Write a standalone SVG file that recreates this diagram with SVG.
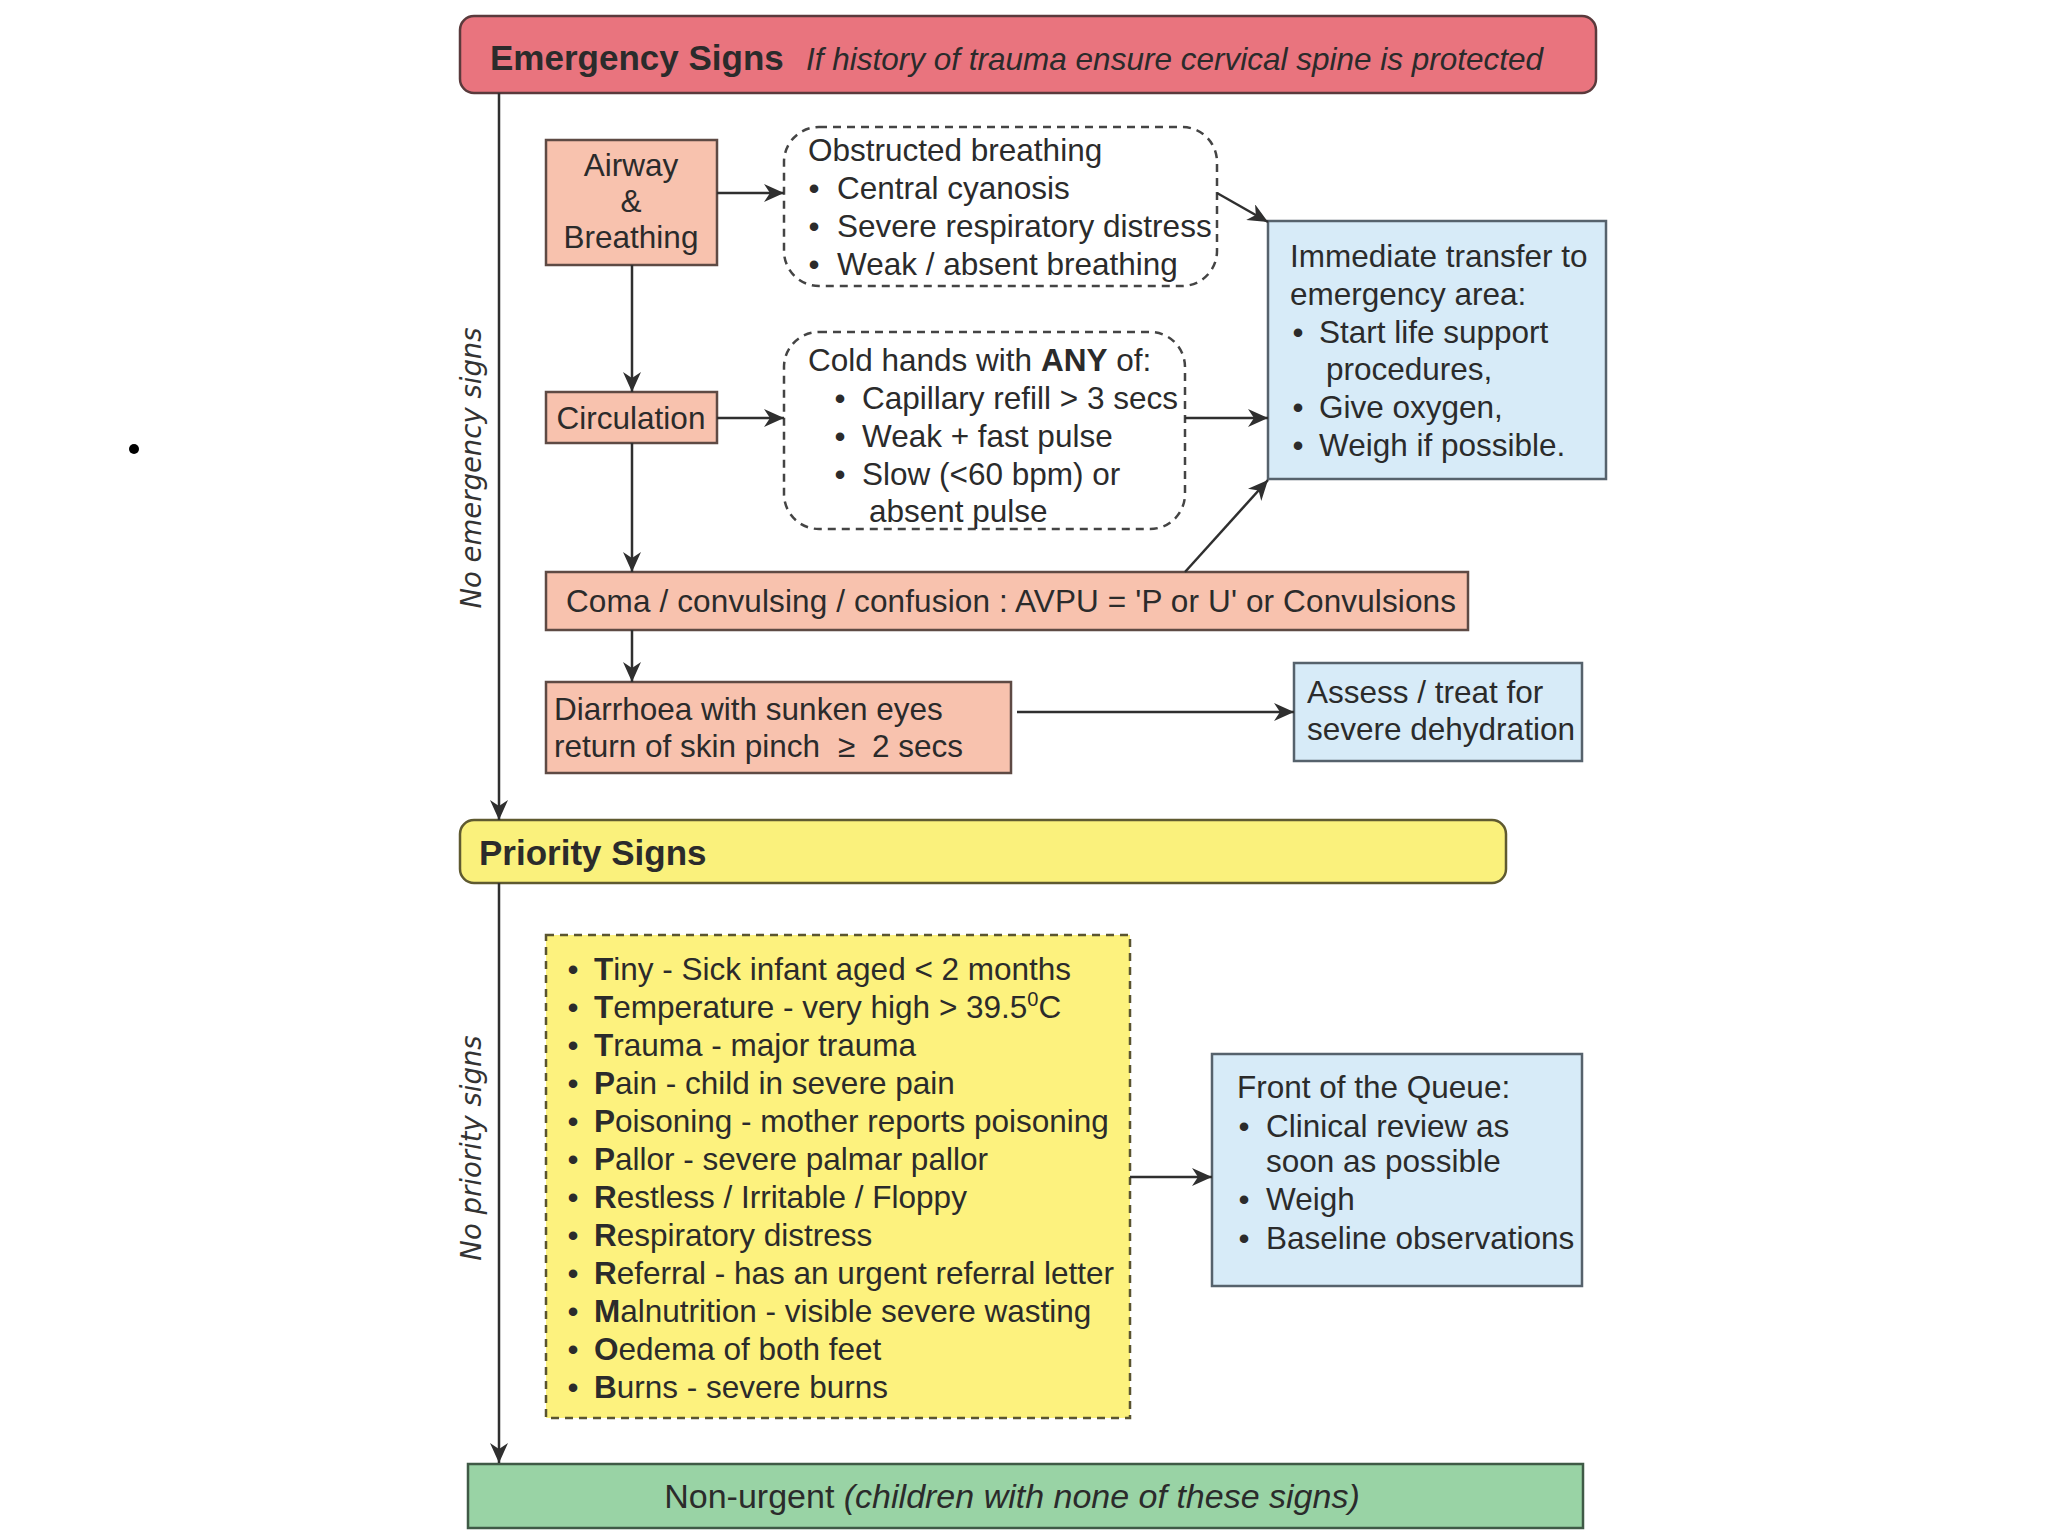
<svg xmlns="http://www.w3.org/2000/svg" width="2048" height="1536" viewBox="0 0 2048 1536">
<style>
text{font-family:"Liberation Sans",Arial,Helvetica,sans-serif;fill:#2b2b2b;font-size:31.5px}
.t{font-size:35px;font-weight:bold}
.i{font-style:italic}
.c{text-anchor:middle}
.bd{font-weight:bold}
.b{text-anchor:middle}
.nu{font-size:34px}
.vl{font-family:"DejaVu Sans",Verdana,sans-serif;font-style:italic;font-size:27.5px;text-anchor:middle;fill:#333}
.salmon{fill:#f8c2ae;stroke:#5e4a44;stroke-width:2.5}
.blue{fill:#d7ebf8;stroke:#56626c;stroke-width:2.5}
.dash{fill:#ffffff;stroke:#444;stroke-width:2.5;stroke-dasharray:8 6}
.conn line{stroke:#2f2f2f;stroke-width:2.5;fill:none}
.conn line.a{marker-end:url(#ah)}
</style>
<defs>
<marker id="ah" markerUnits="userSpaceOnUse" markerWidth="22" markerHeight="18" refX="20" refY="9" orient="auto">
<path d="M0,0 L20,9 L0,18 L6,9 Z" fill="#2f2f2f"/>
</marker>
</defs>
<rect width="2048" height="1536" fill="#ffffff"/>
<circle cx="134" cy="449" r="5" fill="#000"/>

<g id="emergency">
<rect x="460" y="16" width="1136" height="77" rx="14" fill="#e9747e" stroke="#5a3a3c" stroke-width="2.5"/>
<text class="t" x="490" y="70">Emergency Signs</text>
<text class="i" x="806" y="70">If history of trauma ensure cervical spine is protected</text>
</g>

<g id="airway">
<rect class="salmon" x="546" y="140" width="171" height="125"/>
<text class="c" x="631" y="176">Airway</text>
<text class="c" x="631" y="212">&amp;</text>
<text class="c" x="631" y="248">Breathing</text>
</g>

<g id="obstructed">
<rect class="dash" x="784" y="127" width="433" height="159" rx="35"/>
<text x="808" y="161">Obstructed breathing</text>
<text class="b" x="814" y="199">•</text><text x="837" y="199">Central cyanosis</text>
<text class="b" x="814" y="237">•</text><text x="837" y="237">Severe respiratory distress</text>
<text class="b" x="814" y="275">•</text><text x="837" y="275">Weak / absent breathing</text>
</g>

<g id="immediate">
<rect class="blue" x="1268" y="221" width="338" height="258"/>
<text x="1290" y="267">Immediate transfer to</text>
<text x="1290" y="305">emergency area:</text>
<text class="b" x="1298" y="343">•</text><text x="1319" y="343">Start life support</text>
<text x="1326" y="380">procedures,</text>
<text class="b" x="1298" y="418">•</text><text x="1319" y="418">Give oxygen,</text>
<text class="b" x="1298" y="456">•</text><text x="1319" y="456">Weigh if possible.</text>
</g>

<g id="circulation">
<rect class="salmon" x="546" y="392" width="171" height="51"/>
<text class="c" x="631" y="429">Circulation</text>
</g>

<g id="coldhands">
<rect class="dash" x="784" y="332" width="401" height="197" rx="35"/>
<text x="808" y="371">Cold hands with <tspan class="bd">ANY</tspan> of:</text>
<text class="b" x="840" y="409">•</text><text x="862" y="409">Capillary refill &gt; 3 secs</text>
<text class="b" x="840" y="447">•</text><text x="862" y="447">Weak + fast pulse</text>
<text class="b" x="840" y="485">•</text><text x="862" y="485">Slow (&lt;60 bpm) or</text>
<text x="869" y="522">absent pulse</text>
</g>

<g id="coma">
<rect class="salmon" x="546" y="572" width="922" height="58"/>
<text x="566" y="612" textLength="890">Coma / convulsing / confusion : AVPU = 'P or U' or Convulsions</text>
</g>

<g id="diarrhoea">
<rect class="salmon" x="546" y="682" width="465" height="91"/>
<text x="554" y="720">Diarrhoea with sunken eyes</text>
<text x="554" y="757">return of skin pinch <tspan x="838">≥</tspan> <tspan x="872">2 secs</tspan></text>
</g>

<g id="assess">
<rect class="blue" x="1294" y="663" width="288" height="98"/>
<text x="1307" y="703">Assess / treat for</text>
<text x="1307" y="740">severe dehydration</text>
</g>

<g id="priority">
<rect x="460" y="820" width="1046" height="63" rx="14" fill="#faf17c" stroke="#5f5a30" stroke-width="2.5"/>
<text class="t" x="479" y="865">Priority Signs</text>
</g>

<g id="prioritylist">
<rect x="546" y="935" width="584" height="483" fill="#fdf27e" stroke="#5a5430" stroke-width="2.5" stroke-dasharray="8 6"/>
<text class="b" x="573" y="980">•</text><text x="594" y="980"><tspan class="bd">T</tspan>iny - Sick infant aged &lt; 2 months</text>
<text class="b" x="573" y="1018">•</text><text x="594" y="1018"><tspan class="bd">T</tspan>emperature - very high &gt; 39.5<tspan font-size="20" dy="-12">0</tspan><tspan dy="12">C</tspan></text>
<text class="b" x="573" y="1056">•</text><text x="594" y="1056"><tspan class="bd">T</tspan>rauma - major trauma</text>
<text class="b" x="573" y="1094">•</text><text x="594" y="1094"><tspan class="bd">P</tspan>ain - child in severe pain</text>
<text class="b" x="573" y="1132">•</text><text x="594" y="1132"><tspan class="bd">P</tspan>oisoning - mother reports poisoning</text>
<text class="b" x="573" y="1170">•</text><text x="594" y="1170"><tspan class="bd">P</tspan>allor - severe palmar pallor</text>
<text class="b" x="573" y="1208">•</text><text x="594" y="1208"><tspan class="bd">R</tspan>estless / Irritable / Floppy</text>
<text class="b" x="573" y="1246">•</text><text x="594" y="1246"><tspan class="bd">R</tspan>espiratory distress</text>
<text class="b" x="573" y="1284">•</text><text x="594" y="1284"><tspan class="bd">R</tspan>eferral - has an urgent referral letter</text>
<text class="b" x="573" y="1322">•</text><text x="594" y="1322"><tspan class="bd">M</tspan>alnutrition - visible severe wasting</text>
<text class="b" x="573" y="1360">•</text><text x="594" y="1360"><tspan class="bd">O</tspan>edema of both feet</text>
<text class="b" x="573" y="1398">•</text><text x="594" y="1398"><tspan class="bd">B</tspan>urns - severe burns</text>
</g>

<g id="frontqueue">
<rect class="blue" x="1212" y="1054" width="370" height="232"/>
<text x="1237" y="1098">Front of the Queue:</text>
<text class="b" x="1244" y="1137">•</text><text x="1266" y="1137">Clinical review as</text>
<text x="1266" y="1172">soon as possible</text>
<text class="b" x="1244" y="1210">•</text><text x="1266" y="1210">Weigh</text>
<text class="b" x="1244" y="1249">•</text><text x="1266" y="1249">Baseline observations</text>
</g>

<g id="nonurgent">
<rect x="468" y="1464" width="1115" height="64" fill="#99d3a5" stroke="#3f5a46" stroke-width="2.5"/>
<text class="c nu" x="1012" y="1508">Non-urgent <tspan class="i">(children with none of these signs)</tspan></text>
</g>

<g id="labels">
<text class="vl" transform="translate(481,468) rotate(-90)">No emergency signs</text>
<text class="vl" transform="translate(481,1148) rotate(-90)">No priority signs</text>
</g>

<g class="conn" id="connectors">
<line class="a" x1="499" y1="93" x2="499" y2="820"/>
<line class="a" x1="499" y1="883" x2="499" y2="1463"/>
<line class="a" x1="717" y1="193" x2="784" y2="193"/>
<line class="a" x1="1217" y1="193" x2="1268" y2="222"/>
<line class="a" x1="632" y1="265" x2="632" y2="392"/>
<line class="a" x1="717" y1="418" x2="784" y2="418"/>
<line class="a" x1="1185" y1="418" x2="1268" y2="418"/>
<line class="a" x1="1185" y1="572" x2="1268" y2="480"/>
<line class="a" x1="632" y1="443" x2="632" y2="572"/>
<line class="a" x1="632" y1="630" x2="632" y2="682"/>
<line class="a" x1="1017" y1="712" x2="1294" y2="712"/>
<line class="a" x1="1130" y1="1177" x2="1212" y2="1177"/>
</g>
</svg>
